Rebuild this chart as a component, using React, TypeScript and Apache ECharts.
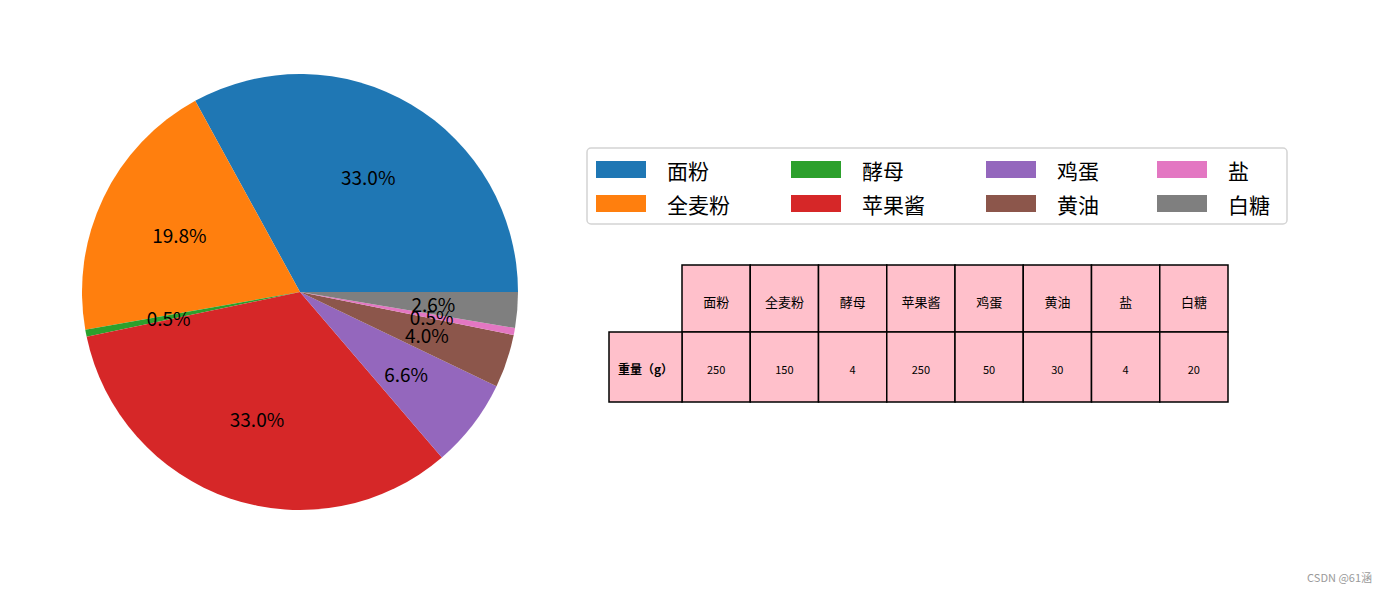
import React, { useEffect, useRef } from "react";
import * as echarts from "echarts";

const names = ["面粉", "全麦粉", "酵母", "苹果酱", "鸡蛋", "黄油", "盐", "白糖"];
const weights = [250, 150, 4, 250, 50, 30, 4, 20];
const colors = ["#1f77b4", "#ff7f0e", "#2ca02c", "#d62728", "#9467bd", "#8c564b", "#e377c2", "#7f7f7f"];
const rowLabel = "重量（g）";
const watermark = "CSDN @61涵";

const FONT = "'Noto Sans CJK SC', 'Noto Sans', sans-serif";

export default function App() {
  const ref = useRef<HTMLDivElement>(null);

  useEffect(() => {
    document.body.style.margin = "0";
    const chart = echarts.init(ref.current!, undefined, { renderer: "svg" });
    const total = weights.reduce((a, b) => a + b, 0);
    const data = names.map((n, i) => ({ name: n, value: weights[i], itemStyle: { color: colors[i] } }));

    // legend: 4 columns x 2 rows, column-major like matplotlib
    const legendLefts = [596, 791, 986, 1157];
    const legends = legendLefts.map((left, c) => ({
      orient: "vertical",
      left,
      top: 159,
      padding: 0,
      itemWidth: 50,
      itemHeight: 17,
      itemGap: 13,
      icon: "rect",
      selectedMode: false,
      data: names.slice(c * 2, c * 2 + 2),
      textStyle: { fontFamily: FONT, fontSize: 21, color: "#000", lineHeight: 21, padding: [0, 0, 0, 16] },
    }));

    // table
    const tX = 682, tY = 265, colW = 68.25, rowH1 = 67, rowH2 = 70, labelW = 73;
    const tableChildren: any[] = [];
    names.forEach((n, i) => {
      const x = tX + i * colW;
      tableChildren.push({
        type: "rect",
        shape: { x, y: tY, width: colW, height: rowH1 },
        style: { fill: "#ffc0cb", stroke: "#000", lineWidth: 1.5 },
      });
      tableChildren.push({
        type: "text",
        x: x + colW / 2,
        y: tY + rowH1 / 2 + 3,
        style: { text: n, fontFamily: FONT, fontSize: 13, fill: "#000", align: "center", verticalAlign: "middle" },
      });
      tableChildren.push({
        type: "rect",
        shape: { x, y: tY + rowH1, width: colW, height: rowH2 },
        style: { fill: "#ffc0cb", stroke: "#000", lineWidth: 1.5 },
      });
      tableChildren.push({
        type: "text",
        x: x + colW / 2,
        y: tY + rowH1 + rowH2 / 2 + 2,
        style: { text: String(weights[i]), fontFamily: FONT, fontSize: 11, fill: "#000", align: "center", verticalAlign: "middle" },
      });
    });
    tableChildren.push({
      type: "rect",
      shape: { x: tX - labelW, y: tY + rowH1, width: labelW, height: rowH2 },
      style: { fill: "#ffc0cb", stroke: "#000", lineWidth: 1.5 },
    });
    tableChildren.push({
      type: "text",
      x: tX - labelW / 2,
      y: tY + rowH1 + rowH2 / 2 + 1,
      style: { text: rowLabel, fontFamily: FONT, fontSize: 12, fontWeight: "bold", fill: "#000", align: "center", verticalAlign: "middle" },
    });

    const labelFmt = (p: any) => ((p.value / total) * 100).toFixed(1) + "%";

    chart.setOption({
      animation: false,
      backgroundColor: "#fff",
      legend: legends,
      graphic: [
        {
          type: "rect",
          z: -10,
          shape: { x: 587, y: 148, width: 700, height: 76, r: 4 },
          style: { fill: "#fff", stroke: "#d4d4d4", lineWidth: 1.5 },
        },
        { type: "group", children: tableChildren },
        {
          type: "text",
          right: 14,
          top: 571,
          style: { text: watermark, fontFamily: FONT, fontSize: 11, fill: "#9a9a9a" },
        },
      ],
      series: [
        {
          type: "pie",
          center: [300, 292],
          radius: [0, 218],
          startAngle: 0,
          clockwise: false,
          avoidLabelOverlap: false,
          label: { show: false },
          labelLine: { show: false },
          itemStyle: { borderWidth: 0 },
          emphasis: { disabled: true },
          data,
        },
        {
          type: "pie",
          center: [300, 292],
          radius: [43.6, 218],
          startAngle: 0,
          clockwise: false,
          avoidLabelOverlap: false,
          silent: true,
          legendHoverLink: false,
          itemStyle: { color: "rgba(0,0,0,0)", borderWidth: 0 },
          labelLayout: { hideOverlap: false },
          label: {
            show: true,
            position: "inside",
            formatter: labelFmt,
            fontFamily: FONT,
            fontSize: 19,
            color: "#000",
            overflow: "none",
          },
          labelLine: { show: false },
          emphasis: { disabled: true },
          data: names.map((n, i) => ({ name: n + " ", value: weights[i] })),
        },
      ],
    });
    return () => chart.dispose();
  }, []);

  return <div ref={ref} style={{ width: 1386, height: 592 }} />;
}
